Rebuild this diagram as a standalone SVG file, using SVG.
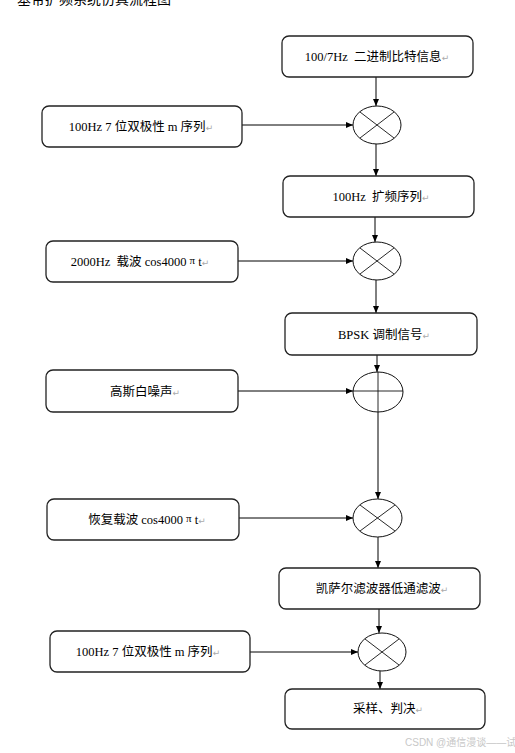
<svg xmlns="http://www.w3.org/2000/svg" width="515" height="753" viewBox="0 0 515 753">
<style>
.box{fill:#fff;stroke:#222;stroke-width:1.3}
.sum{fill:#fff;stroke:#111;stroke-width:1}
.x{stroke:#111;stroke-width:0.9;fill:none}
.lbl{font-family:"Liberation Serif","Noto Sans CJK SC",serif;font-size:12.5px;fill:#000;text-anchor:middle;white-space:pre}
.ret{fill:#aaa;font-family:"DejaVu Sans",sans-serif;font-size:9px}
.pi{font-size:11px}
.conn{stroke:#000;stroke-width:1;fill:none;marker-end:url(#ah)}
.title{font-family:"Noto Sans CJK SC",sans-serif;font-size:14px;fill:#000}
.wm{font-family:"Liberation Sans","Noto Sans CJK SC",sans-serif;font-size:10px;fill:#c8c8c8}
</style>
<defs>
<marker id="ah" markerUnits="userSpaceOnUse" markerWidth="8" markerHeight="8" refX="7" refY="3" orient="auto">
<path d="M0,0 L7,3 L0,6 Z" fill="#000"/>
</marker>
</defs>
<rect width="515" height="753" fill="#fff"/>
<text class="title" x="17" y="4">基带扩频系统仿真流程图</text>

<g id="connectors">
<line class="conn" x1="376" y1="77" x2="376" y2="106"/>
<line class="conn" x1="242" y1="125" x2="353" y2="125"/>
<line class="conn" x1="376" y1="144" x2="376" y2="176"/>
<line class="conn" x1="375" y1="217" x2="375" y2="242"/>
<line class="conn" x1="238" y1="261" x2="353" y2="261"/>
<line class="conn" x1="376" y1="280" x2="376" y2="313"/>
<line class="conn" x1="377" y1="355" x2="377" y2="372"/>
<line class="conn" x1="238" y1="391" x2="353" y2="391"/>
<line class="conn" x1="378" y1="412" x2="378" y2="499"/>
<line class="conn" x1="239" y1="518" x2="353" y2="518"/>
<line class="conn" x1="378" y1="537" x2="378" y2="568"/>
<line class="conn" x1="379" y1="609" x2="379" y2="633"/>
<line class="conn" x1="250" y1="652" x2="358" y2="652"/>
<line class="conn" x1="380" y1="671" x2="380" y2="689"/>
</g>

<g id="n_bits">
<rect class="box" x="282" y="36" width="191" height="41" rx="7"/>
<text class="lbl" x="377" y="61">100/7Hz  二进制比特信息<tspan class="ret">↵</tspan></text>
</g>
<g id="n_mseq1">
<rect class="box" x="42" y="106" width="200" height="41" rx="7"/>
<text class="lbl" x="141" y="131">100Hz 7 位双极性 m 序列<tspan class="ret">↵</tspan></text>
</g>
<g id="mul1">
<ellipse class="sum" cx="377" cy="125" rx="24" ry="19"/>
<path class="x" d="M360,112 L394,138 M394,112 L360,138"/>
</g>
<g id="n_spread">
<rect class="box" x="283" y="176" width="191" height="41" rx="7"/>
<text class="lbl" x="381" y="201">100Hz  扩频序列<tspan class="ret">↵</tspan></text>
</g>
<g id="n_carrier">
<rect class="box" x="46" y="241" width="192" height="41" rx="7"/>
<text class="lbl" x="140" y="266">2000Hz  载波 cos4000 <tspan class="pi" dy="-2">π</tspan><tspan dy="2"> t</tspan><tspan class="ret">↵</tspan></text>
</g>
<g id="mul2">
<ellipse class="sum" cx="377" cy="261" rx="24" ry="19"/>
<path class="x" d="M360,248 L394,274 M394,248 L360,274"/>
</g>
<g id="n_bpsk">
<rect class="box" x="285" y="313" width="192" height="42" rx="7"/>
<text class="lbl" x="384" y="339">BPSK 调制信号<tspan class="ret">↵</tspan></text>
</g>
<g id="n_noise">
<rect class="box" x="46" y="370" width="192" height="42" rx="7"/>
<text class="lbl" x="145" y="396">高斯白噪声<tspan class="ret">↵</tspan></text>
</g>
<g id="add1">
<ellipse class="sum" cx="378" cy="392" rx="25" ry="20"/>
<path class="x" d="M378,372 L378,412 M353,391 L403,391" stroke-width="1"/>
</g>
<g id="n_recover">
<rect class="box" x="47" y="499" width="192" height="41" rx="7"/>
<text class="lbl" x="147" y="524">恢复载波 cos4000 <tspan class="pi" dy="-2">π</tspan><tspan dy="2"> t</tspan><tspan class="ret">↵</tspan></text>
</g>
<g id="mul3">
<ellipse class="sum" cx="377.5" cy="518" rx="24.5" ry="19"/>
<path class="x" d="M360,505 L395,531 M395,505 L360,531"/>
</g>
<g id="n_filter">
<rect class="box" x="279" y="568" width="201" height="41" rx="7"/>
<text class="lbl" x="382" y="593">凯萨尔滤波器低通滤波<tspan class="ret">↵</tspan></text>
</g>
<g id="n_mseq2">
<rect class="box" x="50" y="631" width="200" height="41" rx="7"/>
<text class="lbl" x="148" y="656">100Hz 7 位双极性 m 序列<tspan class="ret">↵</tspan></text>
</g>
<g id="mul4">
<ellipse class="sum" cx="382" cy="652" rx="24" ry="19"/>
<path class="x" d="M365,639 L399,665 M399,639 L365,665"/>
</g>
<g id="n_decide">
<rect class="box" x="285" y="689" width="200" height="40" rx="7"/>
<text class="lbl" x="388" y="713">采样、判决<tspan class="ret">↵</tspan></text>
</g>
<text class="wm" x="405" y="746">CSDN @通信漫谈——试</text>
</svg>
